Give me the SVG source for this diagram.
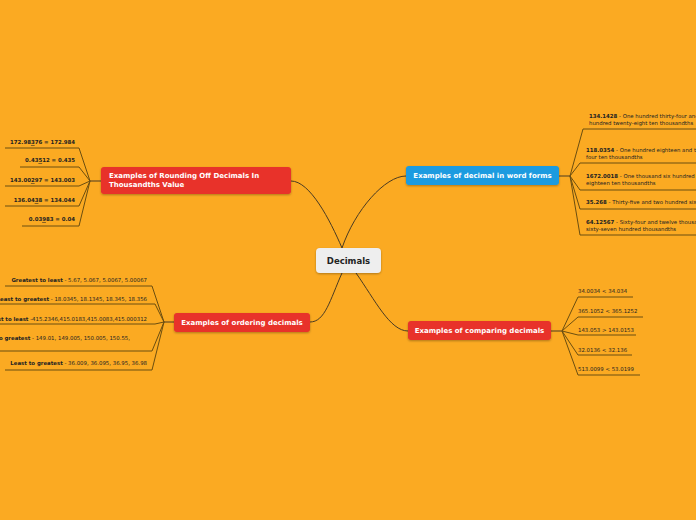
<svg xmlns="http://www.w3.org/2000/svg" width="696" height="520" viewBox="0 0 696 520">
<style>
.c{fill:none;stroke:#4a3b22;stroke-width:1}
.u{fill:none;stroke:#6b4e10;stroke-width:1}
.t{font-family:"DejaVu Sans",sans-serif;font-size:5.4px;fill:#222}
.b{font-weight:bold}
.n{font-family:"DejaVu Sans",sans-serif;font-size:7px;font-weight:bold;fill:#fff}
.ul{text-decoration:underline}
</style>
<defs><filter id="s" x="-10%" y="-20%" width="120%" height="160%"><feDropShadow dx="0" dy="1" stdDeviation="1" flood-opacity="0.3"/></filter></defs>
<rect width="696" height="520" fill="#fbaa22"/>
<g id="connectors">
<path class="c" d="M342,248 C355,210 385,176 406,176"/>
<path class="c" d="M356,273 C375,300 390,331 408,331"/>
<path class="c" d="M342,273 C330,300 325,322 310,322"/>
<path class="c" d="M342,248 C330,220 310,181 291,181"/>
<path class="c" d="M559,176 H570"/>
<path class="u" d="M570,176 L583,129 H696 M570,176 L580,163 H696 M570,176 L580,190 H696 M570,176 L580,209 H696 M570,176 L580,235 H696"/>
<path class="c" d="M551,331 H562"/>
<path class="u" d="M562,331 L578,297 H633 M562,331 L578,317 H643 M562,331 L578,335 H636 M562,331 L578,355 H632 M562,331 L578,375 H640"/>
<path class="c" d="M174,322 H164"/>
<path class="u" d="M164,322 L152,286 H5 M164,322 L155,304 H0 M164,322 L155,324 H0 M164,322 L152,351 H0 M164,322 L152,370 H5"/>
<path class="c" d="M101,181 H90"/>
<path class="u" d="M90,181 L79,148 H5 M90,181 L79,167 H20 M90,181 L79,186 H5 M90,181 L79,206 H5 M90,181 L79,226 H22"/>
</g>
<g id="center"><rect x="316" y="248" width="65" height="25" rx="4" fill="#eeeeee" filter="url(#s)"/><text x="348.5" y="264" text-anchor="middle" font-family="DejaVu Sans,sans-serif" font-size="8.5" font-weight="bold" fill="#222">Decimals</text></g>
<g id="wordforms"><rect x="406" y="166" width="153" height="19" rx="3" fill="#1a9be0" filter="url(#s)"/><text class="n" x="482.5" y="178" text-anchor="middle">Examples of decimal in word forms</text></g>
<g id="comparing"><rect x="408" y="321" width="143" height="19" rx="3" fill="#e8312a" filter="url(#s)"/><text class="n" x="479.5" y="333" text-anchor="middle">Examples of comparing decimals</text></g>
<g id="ordering"><rect x="174" y="313" width="136" height="19" rx="3" fill="#e8312a" filter="url(#s)"/><text class="n" x="242" y="325" text-anchor="middle">Examples of ordering decimals</text></g>
<g id="rounding"><rect x="101" y="167" width="190" height="27" rx="3" fill="#e8312a" filter="url(#s)"/><text class="n" x="109" y="178">Examples of Rounding Off Decimals In</text><text class="n" x="109" y="187">Thousandths Value</text></g>
<g id="wordleaves" class="t">
<text x="589" y="118"><tspan class="b">134.1428</tspan> - One hundred thirty-four and one thousand four</text><text x="589" y="125">hundred twenty-eight ten thousandths</text>
<text x="586" y="152"><tspan class="b">118.0354</tspan> - One hundred eighteen and three hundred fifty-</text><text x="586" y="159">four ten thousandths</text>
<text x="586" y="178"><tspan class="b">1672.0018</tspan> - One thousand six hundred seventy-two and</text><text x="586" y="185">eighteen ten thousandths</text>
<text x="586" y="204"><tspan class="b">35.268</tspan> - Thirty-five and two hundred sixty-eight thousandths</text>
<text x="586" y="224"><tspan class="b">64.12567</tspan> - Sixty-four and twelve thousand five hundred</text><text x="586" y="231">sixty-seven hundred thousandths</text>
</g>
<g id="compareleaves" class="t">
<text x="578" y="293">34.0034 &lt; 34.034</text>
<text x="578" y="313">365.1052 &lt; 365.1252</text>
<text x="578" y="332">143.053 &gt; 143.0153</text>
<text x="578" y="352">32.0136 &lt; 32.136</text>
<text x="578" y="371">513.0099 &lt; 53.0199</text>
</g>
<g id="orderleaves" class="t" text-anchor="end">
<text x="147" y="282"><tspan class="b">Greatest to least</tspan> - 5.67, 5.067, 5.0067, 5.00067</text>
<text x="147" y="301"><tspan class="b">Least to greatest</tspan> - 18.0345, 18.1345, 18.345, 18.356</text>
<text x="147" y="321"><tspan class="b">Greatest to least</tspan> -415.2346,415.0183,415.0083,415.000312</text>
<text x="130" y="340"><tspan class="b">Least to greatest</tspan> - 149.01, 149.005, 150.005, 150.55,</text>
<text x="147" y="365"><tspan class="b">Least to greatest</tspan> - 36.009, 36.095, 36.95, 36.98</text>
</g>
<g id="roundleaves" class="t b" text-anchor="end">
<text x="75" y="144">172.98<tspan class="ul">3</tspan>76 = 172.984</text>
<text x="75" y="162">0.43<tspan class="ul">5</tspan>12 = 0.435</text>
<text x="75" y="182">143.00<tspan class="ul">2</tspan>97 = 143.003</text>
<text x="75" y="202">136.04<tspan class="ul">3</tspan>8 = 134.044</text>
<text x="75" y="221">0.03<tspan class="ul">9</tspan>83 = 0.04</text>
</g>
</svg>
